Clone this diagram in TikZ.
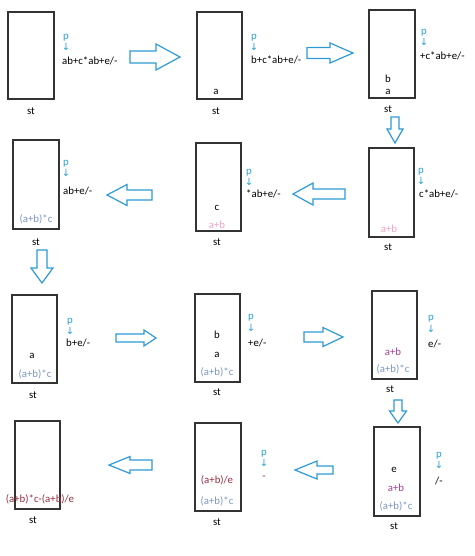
\documentclass[tikz,border=0pt]{standalone}
\usepackage{fontspec}
\setmainfont{Carlito}
\newfontfamily\symf{DejaVu Sans}
\definecolor{arrblue}{HTML}{2E9AD6}
\definecolor{pblue}{HTML}{2AA0DA}
\definecolor{pinkc}{HTML}{F2A3C4}
\definecolor{steelc}{HTML}{7B96C6}
\definecolor{purplec}{HTML}{A33E9C}
\definecolor{darkredc}{HTML}{982B40}
\definecolor{boxc}{HTML}{333333}
\newcommand{\blkh}[6]{% x0, xtip, y, shaft half, head half, head length
  \pgfmathsetmacro\hd{(#2>#1)?#6:-#6}
  \draw[blk] (#1,{#3-#4}) -- ({#2-\hd},{#3-#4}) -- ({#2-\hd},{#3-#5}) -- (#2,#3)
    -- ({#2-\hd},{#3+#5}) -- ({#2-\hd},{#3+#4}) -- (#1,{#3+#4}) -- cycle;}
\newcommand{\blkv}[6]{% x, y0, ytip, shaft half, head half, head length
  \draw[blk] ({#1-#4},#2) -- ({#1-#4},{#3-#6}) -- ({#1-#5},{#3-#6}) -- (#1,#3)
    -- ({#1+#5},{#3-#6}) -- ({#1+#4},{#3-#6}) -- ({#1+#4},#2) -- cycle;}
\begin{document}
\begin{tikzpicture}[x=1pt,y=-1pt,
  every node/.style={font=\fontsize{10.8}{13}\selectfont, inner sep=0pt, text height=7.5pt, text depth=2pt},
  stk/.style={draw=boxc, line width=1.3pt},
  blk/.style={draw=arrblue, line width=1.2pt, fill=white, line join=miter},
  ptxt/.style={text=pblue},
  parr/.style={text=pblue, font=\symf\fontsize{10}{11}\selectfont},
  str/.style={anchor=west, text=black},
  pinkt/.style={text=pinkc},
  steelt/.style={text=steelc},
  purplet/.style={text=purplec},
  redt/.style={text=darkredc}]
\useasboundingbox (0,0) rectangle (474,556);
% ---------- Row 1 ----------
\node[stk, minimum width=46pt, minimum height=87pt] (b1) at (31,55.5) {};
\node (st1) at (31,112) {st};
\node[ptxt] (p1) at (66,37) {p};
\node[parr] (d1) at (66,48) {↓};
\node[str] (s1) at (62,62) {ab+c*ab+e/-};

\node[stk, minimum width=45pt, minimum height=87pt] (b2) at (219.5,55.5) {};
\node (a2) at (216,92) {a};
\node (st2) at (216,112) {st};
\node[ptxt] (p2) at (254,37) {p};
\node[parr] (d2) at (254,48) {↓};
\node[str] (s2) at (251,61) {b+c*ab+e/-};

\node[stk, minimum width=46pt, minimum height=88pt] (b3) at (392,54) {};
\node (bb3) at (388,80) {b};
\node (a3) at (388,92) {a};
\node (st3) at (388,110) {st};
\node[ptxt] (p3) at (424,32) {p};
\node[parr] (d3) at (424,43) {↓};
\node[str] (s3) at (420,57) {+c*ab+e/-};

% ---------- Row 2 ----------
\node[stk, minimum width=45pt, minimum height=89pt] (b4) at (391.5,192.5) {};
\node[pinkt] (ab4) at (389,230) {a+b};
\node (st4) at (388,248) {st};
\node[ptxt] (p4) at (421,171) {p};
\node[parr] (d4) at (421,182) {↓};
\node[str] (s4) at (419,195) {c*ab+e/-};

\node[stk, minimum width=45pt, minimum height=88pt] (b5) at (218.5,187) {};
\node (c5) at (217,208) {c};
\node[pinkt] (ab5) at (217,226) {a+b};
\node (st5) at (217,243) {st};
\node[ptxt] (p5) at (249,172) {p};
\node[parr] (d5) at (249,183) {↓};
\node[str] (s5) at (246,195) {*ab+e/-};

\node[stk, minimum width=46pt, minimum height=89pt] (b6) at (36,184.5) {};
\node[steelt] (x6) at (36,220) {(a+b)*c};
\node (st6) at (36,243) {st};
\node[ptxt] (p6) at (66,163) {p};
\node[parr] (d6) at (66,174) {↓};
\node[str] (s6) at (63,192) {ab+e/-};

% ---------- Row 3 ----------
\node[stk, minimum width=45pt, minimum height=88pt] (b7) at (34.5,339) {};
\node (a7) at (32,356) {a};
\node[steelt] (x7) at (35,375) {(a+b)*c};
\node (st7) at (33,396) {st};
\node[ptxt] (p7) at (70,321) {p};
\node[parr] (d7) at (70,332) {↓};
\node[str] (s7) at (66,344) {b+e/-};

\node[stk, minimum width=45pt, minimum height=88pt] (b8) at (217.5,338) {};
\node (bb8) at (217,336) {b};
\node (a8) at (217,355) {a};
\node[steelt] (x8) at (217,373) {(a+b)*c};
\node (st8) at (217,393) {st};
\node[ptxt] (p8) at (251,317) {p};
\node[parr] (d8) at (251,329) {↓};
\node[str] (s8) at (248,344) {+e/-};

\node[stk, minimum width=45pt, minimum height=88pt] (b9) at (394.5,335) {};
\node[purplet] (ab9) at (393,353) {a+b};
\node[steelt] (x9) at (393,370) {(a+b)*c};
\node (st9) at (390,390) {st};
\node[ptxt] (p9) at (431,318) {p};
\node[parr] (d9) at (431,330) {↓};
\node[str] (s9) at (428,345) {e/-};

% ---------- Row 4 ----------
\node[stk, minimum width=46pt, minimum height=89pt] (b10) at (397,471.5) {};
\node (e10) at (394,470) {e};
\node[purplet] (ab10) at (396,489) {a+b};
\node[steelt] (x10) at (396,507) {(a+b)*c};
\node (st10) at (394,527) {st};
\node[ptxt] (p10) at (439,455) {p};
\node[parr] (d10) at (439,466) {↓};
\node[str] (s10) at (435,482) {/-};

\node[stk, minimum width=46pt, minimum height=88pt] (b11) at (218,467) {};
\node[redt] (y11) at (217,481) {(a+b)/e};
\node[steelt] (x11) at (217,502) {(a+b)*c};
\node (st11) at (217,523) {st};
\node[ptxt] (p11) at (264,453) {p};
\node[parr] (d11) at (264,464) {↓};
\node[redt] (s11) at (264,477) {-};

\node[stk, minimum width=45pt, minimum height=88pt] (b12) at (37.5,465) {};
\node[redt] (y12) at (40,500) {(a+b)*c-(a+b)/e};
\node (st12) at (33,521) {st};

% ---------- block arrows ----------
\blkh{130}{180}{57}{6}{13}{24}
\blkh{307}{353}{53}{5.5}{10}{23}
\blkv{395}{117}{143}{4}{8}{14}
\blkh{345}{293}{194}{5}{11}{20}
\blkh{152}{107}{195}{5}{10.5}{20}
\blkv{42}{250}{283}{5}{11}{15}
\blkh{116}{156}{338}{4}{8}{12}
\blkh{304}{343}{337}{5}{9.5}{20}
\blkv{398}{400}{423}{4}{8.5}{12}
\blkh{333}{295}{470}{4}{9}{22}
\blkh{152}{109}{465}{5}{8.5}{21}
\end{tikzpicture}
\end{document}
